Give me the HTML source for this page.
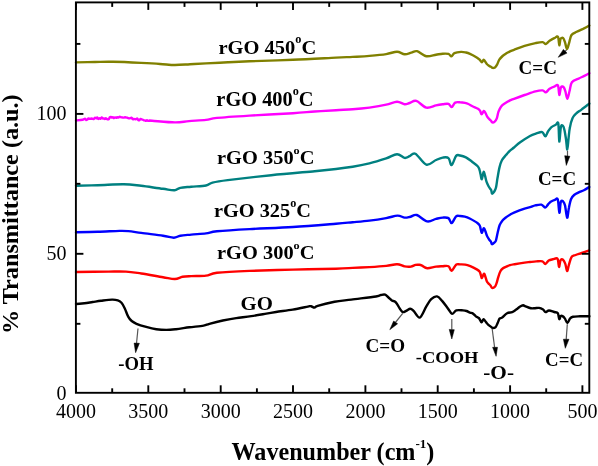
<!DOCTYPE html>
<html><head><meta charset="utf-8"><style>
html,body{margin:0;padding:0;background:#fff;}
body{width:598px;height:466px;overflow:hidden;}
svg{display:block;}
.t{font-family:"Liberation Serif","Times New Roman",serif;}
.b{font-weight:bold;}
</style></head><body>
<svg width="598" height="466" viewBox="0 0 598 466">
<rect width="598" height="466" fill="#fff"/>
<g fill="none" stroke-width="2.4" stroke-linejoin="round" stroke-linecap="round">
<path d="M76.0,62.4 C79.2,62.3 88.8,62.1 95.0,62.0 C101.2,61.9 105.3,61.6 113.0,61.8 C120.7,61.9 133.2,62.5 141.0,62.9 C148.8,63.3 154.3,63.6 160.0,64.0 C165.7,64.3 170.0,65.0 175.0,65.0 C180.0,65.0 184.8,64.5 190.0,64.2 C195.2,63.9 199.7,63.7 206.0,63.4 C212.3,63.1 220.8,62.6 228.0,62.3 C235.2,61.9 238.7,61.7 249.5,61.3 C260.3,60.9 278.6,60.4 293.0,59.8 C307.4,59.2 326.1,58.1 336.0,57.6 C345.9,57.1 347.1,57.2 352.7,56.9 C358.3,56.6 363.8,56.4 369.4,55.9 C375.0,55.4 381.6,54.8 386.2,54.1 C390.8,53.4 393.9,51.7 397.0,51.7 C400.1,51.7 402.2,54.1 404.6,54.2 C407.0,54.4 409.2,53.1 411.3,52.6 C413.4,52.1 414.6,50.6 417.1,51.2 C419.6,51.8 423.2,55.6 426.3,56.2 C429.4,56.8 433.3,55.1 436.0,54.7 C438.7,54.3 440.6,53.8 442.7,53.7 C444.8,53.6 447.1,53.5 448.5,53.9 C449.9,54.3 450.4,56.5 451.4,56.4 C452.4,56.3 452.8,53.9 454.4,53.1 C456.0,52.4 459.2,52.0 461.1,51.9 C463.0,51.8 464.5,52.2 466.0,52.5 C467.5,52.8 468.2,53.0 470.0,53.8 C471.8,54.6 475.1,56.4 476.7,57.4 C478.3,58.4 478.6,58.7 479.5,59.5 C480.4,60.3 481.2,62.4 481.9,62.4 C482.6,62.4 483.0,59.5 483.8,59.8 C484.6,60.1 485.9,63.0 486.8,64.0 C487.7,65.0 488.3,65.3 489.0,65.8 C489.7,66.3 490.4,66.5 491.0,66.8 C491.6,67.1 491.9,67.6 492.4,67.8 C492.8,68.0 493.2,68.0 493.7,67.9 C494.1,67.8 494.5,67.9 495.1,67.3 C495.7,66.7 496.5,65.7 497.2,64.4 C497.9,63.1 498.4,61.0 499.3,59.6 C500.2,58.2 501.4,57.1 502.6,56.0 C503.9,54.9 505.6,53.9 506.8,53.1 C508.0,52.3 508.8,52.0 510.0,51.4 C511.2,50.8 511.6,50.7 514.0,49.8 C516.4,48.9 521.0,47.0 524.6,45.9 C528.2,44.8 532.5,43.7 535.5,43.1 C538.5,42.5 540.9,42.0 542.6,42.1 C544.3,42.2 544.6,44.2 545.8,44.0 C547.0,43.8 548.1,41.8 549.6,40.8 C551.1,39.8 553.4,38.5 554.8,37.9 C556.2,37.2 557.2,35.7 558.0,36.9 C558.8,38.1 558.9,45.0 559.3,45.3 C559.7,45.6 560.0,40.0 560.6,38.8 C561.2,37.6 562.5,37.6 563.2,38.2 C564.0,38.9 564.5,40.9 565.1,42.7 C565.7,44.5 566.4,49.0 567.0,49.1 C567.6,49.2 568.2,45.8 569.0,43.4 C569.8,41.0 570.2,36.9 571.5,35.0 C572.8,33.1 574.8,32.8 576.7,31.8 C578.6,30.8 581.0,29.9 583.1,28.9 C585.2,27.8 588.3,26.1 589.3,25.5" stroke="#808000"/>
<path d="M76.0,120.5 C77.1,120.4 81.2,120.1 82.7,119.8 C84.2,119.5 84.4,118.8 84.9,118.8 C85.5,118.8 85.7,119.8 86.1,119.9 C86.4,120.1 86.8,119.8 87.2,119.6 C87.5,119.4 87.9,118.7 88.3,118.5 C88.7,118.4 89.0,118.8 89.4,118.8 C89.8,118.8 90.1,118.8 90.5,118.7 C90.9,118.7 91.3,118.5 91.6,118.5 C92.0,118.6 92.4,118.7 92.8,118.8 C93.1,118.9 93.5,119.2 93.9,119.0 C94.2,118.8 94.6,117.8 95.0,117.7 C95.4,117.5 95.7,118.3 96.1,118.3 C96.5,118.3 96.8,117.4 97.2,117.5 C97.6,117.6 98.0,118.8 98.3,118.9 C98.7,119.1 99.1,118.2 99.4,118.2 C99.8,118.2 100.2,119.0 100.6,118.8 C100.9,118.7 101.3,117.6 101.7,117.5 C102.1,117.4 102.4,118.2 102.8,118.4 C103.2,118.6 103.5,118.3 103.8,118.4 C104.1,118.5 104.5,119.1 104.8,119.0 C105.1,119.0 105.5,118.3 105.8,118.3 C106.1,118.3 106.5,118.7 106.8,118.9 C107.1,119.1 107.5,119.4 107.8,119.4 C108.1,119.4 108.5,119.4 108.8,119.1 C109.1,118.7 109.5,117.6 109.8,117.2 C110.1,116.8 110.5,116.9 110.8,116.9 C111.1,117.0 111.5,117.5 111.8,117.6 C112.1,117.6 112.5,117.1 112.8,117.2 C113.1,117.3 113.5,118.2 113.9,118.2 C114.3,118.2 114.6,117.5 115.0,117.4 C115.4,117.3 115.7,117.8 116.1,117.8 C116.5,117.8 116.8,117.3 117.2,117.2 C117.6,117.2 118.0,117.6 118.3,117.6 C118.7,117.5 119.1,116.9 119.4,116.8 C119.8,116.7 120.2,117.0 120.6,117.1 C120.9,117.2 121.3,117.4 121.7,117.4 C122.1,117.5 122.4,117.5 122.8,117.5 C123.2,117.5 123.5,117.7 123.9,117.6 C124.3,117.6 124.7,117.3 125.0,117.3 C125.4,117.3 125.8,117.4 126.2,117.5 C126.5,117.5 126.9,117.5 127.3,117.6 C127.6,117.7 128.0,118.0 128.4,118.2 C128.8,118.3 129.1,118.4 129.5,118.4 C129.9,118.4 130.2,118.2 130.6,118.1 C131.0,118.0 131.4,117.5 131.7,117.7 C132.1,117.9 132.5,119.1 132.8,119.3 C133.2,119.5 133.6,118.9 134.0,118.9 C134.3,118.9 134.7,119.1 135.1,119.2 C135.5,119.2 135.8,119.1 136.2,119.0 C136.6,118.9 136.9,118.4 137.3,118.6 C137.7,118.8 138.1,119.9 138.4,120.2 C138.8,120.4 139.2,120.3 139.6,120.0 C139.9,119.8 140.3,119.0 140.7,118.9 C141.0,118.7 141.4,119.2 141.8,119.4 C142.2,119.5 142.5,119.6 142.9,119.8 C143.3,120.0 143.6,120.2 143.9,120.3 C144.3,120.4 144.6,120.3 144.9,120.4 C145.3,120.5 145.6,120.9 146.0,120.9 C146.3,120.8 146.6,120.1 147.0,120.1 C147.3,120.1 147.7,120.8 148.0,120.9 C148.4,121.0 148.4,120.7 149.0,120.7 C149.7,120.7 147.8,120.4 152.1,120.7 C156.4,121.0 168.8,122.3 174.9,122.4 C181.1,122.5 183.8,121.5 189.0,121.1 C194.2,120.7 201.3,120.4 206.0,119.9 C210.7,119.4 209.7,118.6 216.9,117.9 C224.2,117.2 236.8,116.4 249.5,115.6 C262.2,114.8 282.1,113.9 293.0,113.2 C303.9,112.5 307.5,112.0 314.7,111.5 C321.9,111.0 329.7,110.6 336.0,110.2 C342.3,109.8 347.1,109.6 352.7,109.2 C358.3,108.8 363.8,108.3 369.4,107.6 C375.0,106.8 381.6,105.7 386.2,104.7 C390.8,103.7 393.9,101.8 397.0,101.7 C400.1,101.6 402.5,104.0 404.6,104.2 C406.7,104.4 407.7,103.5 409.6,103.0 C411.6,102.5 413.5,100.1 416.3,100.9 C419.1,101.7 423.0,106.8 426.3,107.6 C429.6,108.3 433.3,106.0 436.0,105.4 C438.7,104.8 440.6,104.5 442.7,104.2 C444.8,104.0 447.0,103.4 448.5,103.9 C450.0,104.4 450.5,107.3 451.6,107.1 C452.7,106.9 453.8,103.4 455.2,102.6 C456.6,101.8 458.4,102.2 460.0,102.3 C461.6,102.3 463.6,102.6 465.0,102.9 C466.4,103.2 467.1,103.4 468.4,104.0 C469.6,104.6 470.9,105.5 472.5,106.3 C474.1,107.1 476.7,108.0 478.0,108.8 C479.3,109.6 479.5,110.0 480.1,110.9 C480.7,111.8 481.0,114.4 481.6,114.4 C482.2,114.4 483.2,111.1 483.8,110.9 C484.4,110.7 484.9,112.0 485.5,113.0 C486.1,114.0 486.6,115.7 487.2,116.7 C487.8,117.7 488.7,118.6 489.3,119.2 C489.9,119.8 490.4,120.0 490.9,120.5 C491.4,121.0 491.6,122.2 492.2,122.4 C492.8,122.6 493.9,122.3 494.7,121.6 C495.5,120.9 496.2,120.1 496.8,118.4 C497.4,116.8 497.8,113.7 498.5,111.7 C499.2,109.8 500.0,108.0 501.0,106.7 C502.0,105.4 502.8,104.8 504.3,103.8 C505.8,102.8 508.4,101.2 510.0,100.4 C511.6,99.6 511.6,99.7 514.0,98.8 C516.4,97.9 521.0,96.2 524.6,95.0 C528.2,93.8 532.5,92.2 535.5,91.4 C538.5,90.6 540.9,90.2 542.6,90.4 C544.3,90.6 544.6,92.6 545.8,92.3 C547.0,92.0 548.1,89.8 549.6,88.8 C551.1,87.8 553.4,86.8 554.8,86.3 C556.2,85.8 557.2,84.2 558.0,85.6 C558.8,87.0 558.8,94.6 559.3,94.9 C559.8,95.2 560.3,88.5 561.0,87.2 C561.7,85.9 562.9,86.5 563.6,87.2 C564.3,87.9 564.8,89.5 565.4,91.4 C566.0,93.3 566.7,98.9 567.4,98.8 C568.1,98.7 568.9,93.6 569.6,90.8 C570.4,88.0 570.4,84.2 571.9,82.2 C573.4,80.2 576.5,79.6 578.6,78.6 C580.7,77.5 582.6,76.8 584.4,75.9 C586.2,75.0 588.5,73.7 589.3,73.2" stroke="#ff00ff"/>
<path d="M76.0,185.7 C79.6,185.6 89.7,185.4 97.7,185.2 C105.7,185.0 116.5,184.2 123.8,184.3 C131.0,184.4 134.7,185.1 141.2,185.8 C147.7,186.6 157.4,188.1 163.0,188.8 C168.6,189.6 171.6,190.5 174.5,190.3 C177.4,190.1 177.5,188.4 180.3,187.8 C183.1,187.2 186.9,187.1 191.2,186.7 C195.5,186.3 202.4,186.2 206.0,185.5 C209.6,184.8 208.9,183.5 212.5,182.6 C216.1,181.7 217.9,181.3 227.7,180.1 C237.5,178.9 256.7,176.7 271.2,175.2 C285.7,173.7 303.9,172.2 314.7,171.2 C325.5,170.2 329.7,169.7 336.0,169.0 C342.3,168.3 347.1,167.7 352.7,166.8 C358.3,165.9 363.8,164.8 369.4,163.4 C375.0,162.0 381.6,159.9 386.2,158.4 C390.8,156.9 393.9,154.3 397.0,154.2 C400.1,154.1 402.5,157.6 404.6,157.9 C406.7,158.2 407.8,156.9 409.6,156.2 C411.4,155.5 412.6,152.3 415.4,153.7 C418.2,155.1 422.9,163.5 426.3,164.6 C429.7,165.7 433.3,161.2 436.0,160.0 C438.7,158.8 440.6,157.9 442.7,157.6 C444.8,157.3 447.0,156.8 448.5,158.1 C450.0,159.3 450.3,165.5 451.6,165.1 C452.9,164.7 454.7,157.5 456.1,155.9 C457.5,154.3 458.4,155.2 460.0,155.5 C461.6,155.8 463.9,156.4 465.9,157.4 C467.9,158.4 469.8,160.0 471.8,161.5 C473.8,163.0 476.4,164.8 477.7,166.2 C479.0,167.6 479.0,168.4 479.5,169.8 C480.0,171.2 480.2,172.9 480.6,174.5 C481.0,176.1 481.3,179.6 481.8,179.2 C482.3,178.8 483.1,172.5 483.6,171.9 C484.1,171.3 484.5,174.1 485.0,175.7 C485.5,177.3 485.9,179.9 486.5,181.6 C487.1,183.3 487.7,184.5 488.3,185.7 C488.9,186.9 489.6,187.8 490.1,188.6 C490.6,189.4 491.0,189.6 491.3,190.4 C491.6,191.2 491.6,193.5 492.1,193.7 C492.6,193.9 493.6,192.6 494.2,191.6 C494.8,190.6 495.4,189.8 496.0,187.5 C496.6,185.2 496.9,181.3 497.5,178.0 C498.1,174.7 498.8,170.3 499.5,167.4 C500.2,164.5 500.8,162.4 501.9,160.3 C503.0,158.2 504.6,156.6 506.0,155.0 C507.4,153.4 508.7,151.8 510.0,150.6 C511.3,149.3 512.3,148.9 514.0,147.5 C515.7,146.1 517.5,144.2 520.2,142.3 C522.9,140.4 527.3,137.5 530.0,136.0 C532.7,134.5 534.4,134.1 536.4,133.4 C538.4,132.8 540.7,131.6 542.2,132.1 C543.7,132.6 544.4,136.5 545.4,136.4 C546.4,136.3 547.0,133.0 548.0,131.5 C549.0,130.0 549.9,128.4 551.2,127.3 C552.5,126.2 554.5,125.4 555.7,124.8 C556.9,124.2 557.7,120.7 558.3,123.5 C558.9,126.3 558.9,140.9 559.3,141.5 C559.7,142.1 560.3,129.6 560.9,127.0 C561.5,124.4 562.2,125.2 562.8,125.7 C563.4,126.2 564.0,127.9 564.5,130.2 C565.0,132.4 565.5,136.0 566.0,139.2 C566.5,142.4 566.9,149.7 567.3,149.5 C567.7,149.3 568.2,141.6 568.6,137.9 C569.0,134.2 569.2,130.9 569.9,127.6 C570.5,124.3 571.4,120.6 572.5,118.2 C573.6,115.8 574.8,114.8 576.3,113.4 C577.8,112.0 579.3,111.2 581.5,109.6 C583.7,108.0 588.0,104.6 589.3,103.6" stroke="#008080"/>
<path d="M76.0,232.2 C79.6,232.1 90.5,232.0 97.7,231.8 C105.0,231.6 114.4,231.0 119.5,230.9 C124.6,230.8 124.6,230.8 128.2,231.1 C131.8,231.4 135.4,232.1 141.2,232.9 C147.0,233.7 157.6,234.9 163.0,235.7 C168.4,236.5 170.9,237.7 173.8,237.7 C176.7,237.7 177.4,236.2 180.3,235.7 C183.2,235.2 186.9,235.0 191.2,234.6 C195.5,234.2 201.7,233.9 206.0,233.4 C210.3,232.9 209.7,232.0 216.9,231.3 C224.2,230.6 236.8,229.8 249.5,229.1 C262.2,228.4 278.6,227.9 293.0,227.0 C307.4,226.1 326.1,224.5 336.0,223.7 C345.9,222.9 347.1,222.7 352.7,222.2 C358.3,221.7 363.8,221.3 369.4,220.6 C375.0,219.9 381.5,218.9 386.2,218.1 C390.9,217.3 394.4,215.7 397.5,215.6 C400.6,215.5 402.5,217.4 404.6,217.6 C406.8,217.8 408.4,217.1 410.4,216.7 C412.4,216.3 414.0,214.2 416.8,215.0 C419.6,215.8 424.0,220.8 427.2,221.4 C430.4,222.1 433.4,219.5 436.0,218.9 C438.6,218.3 440.6,217.7 442.7,217.6 C444.8,217.5 447.0,217.2 448.5,218.1 C450.0,219.0 450.3,223.4 451.6,223.1 C452.9,222.8 454.7,217.6 456.1,216.4 C457.5,215.2 458.6,216.0 460.0,216.0 C461.4,216.0 463.2,216.2 464.8,216.6 C466.4,217.0 467.6,217.4 469.7,218.5 C471.8,219.6 475.7,221.7 477.4,222.9 C479.1,224.1 479.2,224.7 479.8,225.8 C480.4,226.9 480.4,228.4 480.8,229.6 C481.2,230.8 481.5,233.0 482.0,232.8 C482.5,232.6 483.1,228.5 483.6,228.2 C484.2,227.9 484.7,229.8 485.3,231.1 C485.9,232.4 486.4,234.5 487.0,235.9 C487.6,237.3 488.4,238.3 489.0,239.3 C489.6,240.3 490.4,240.9 490.9,241.7 C491.4,242.5 491.4,244.0 492.0,244.2 C492.6,244.3 493.7,243.2 494.3,242.6 C494.9,242.0 495.3,242.3 495.9,240.7 C496.4,239.1 497.0,235.6 497.6,233.0 C498.2,230.4 498.8,227.4 499.6,225.3 C500.4,223.2 501.4,221.8 502.5,220.4 C503.6,219.0 505.1,218.1 506.3,217.1 C507.6,216.1 508.7,215.4 510.0,214.7 C511.3,213.9 511.6,213.6 514.0,212.6 C516.4,211.6 521.9,209.5 524.6,208.6 C527.3,207.7 528.2,207.7 530.0,207.2 C531.8,206.7 533.3,205.8 535.2,205.4 C537.1,205.0 539.7,204.3 541.4,204.7 C543.1,205.1 544.2,207.6 545.3,207.6 C546.4,207.6 547.2,205.4 548.1,204.4 C549.0,203.4 549.6,202.6 550.7,201.8 C551.8,201.1 553.7,200.3 554.9,199.9 C556.1,199.5 557.0,197.3 557.8,199.5 C558.5,201.7 558.9,212.4 559.4,212.8 C559.9,213.2 560.2,203.7 560.8,201.8 C561.4,199.9 562.3,200.7 563.0,201.3 C563.7,201.9 564.3,202.7 565.0,205.4 C565.7,208.2 566.5,217.4 567.1,217.8 C567.8,218.2 568.2,211.1 568.9,208.0 C569.5,204.9 570.1,201.4 571.0,199.2 C571.9,197.0 572.8,196.1 574.1,195.0 C575.4,193.9 577.1,193.2 578.7,192.4 C580.3,191.6 582.1,191.1 583.9,190.2 C585.7,189.3 588.4,187.5 589.3,187.0" stroke="#0000ff"/>
<path d="M76.0,272.0 C81.4,271.9 100.3,271.7 108.6,271.6 C116.9,271.5 120.6,271.3 126.0,271.6 C131.4,271.9 135.0,272.6 141.2,273.5 C147.4,274.4 157.4,276.3 163.0,277.2 C168.6,278.1 171.7,279.1 174.9,279.0 C178.2,278.9 179.8,277.3 182.5,276.8 C185.2,276.3 187.3,276.3 191.2,276.1 C195.1,275.9 201.7,276.2 206.0,275.6 C210.3,275.1 209.7,273.6 216.9,272.8 C224.2,272.0 236.8,271.4 249.5,270.9 C262.2,270.4 278.6,270.0 293.0,269.6 C307.4,269.2 326.1,269.0 336.0,268.7 C345.9,268.4 347.1,268.2 352.7,267.9 C358.3,267.6 363.8,267.4 369.4,267.1 C375.0,266.8 381.6,266.4 386.2,265.9 C390.8,265.4 394.0,264.1 397.1,264.2 C400.2,264.3 402.3,266.0 404.6,266.4 C406.9,266.8 409.1,266.9 410.9,266.6 C412.7,266.4 414.1,265.2 415.5,264.9 C416.9,264.6 418.4,264.7 419.5,264.8 C420.6,264.9 420.7,265.0 422.0,265.6 C423.3,266.2 425.0,268.0 427.3,268.2 C429.6,268.4 433.4,266.9 436.0,266.6 C438.6,266.3 440.6,266.3 442.7,266.2 C444.8,266.1 447.0,265.4 448.5,266.2 C450.0,267.0 450.3,271.1 451.6,270.9 C452.9,270.6 454.7,265.8 456.1,264.7 C457.5,263.6 458.5,264.4 460.0,264.4 C461.5,264.4 463.5,264.3 465.2,264.6 C466.9,264.9 468.3,265.4 470.3,266.2 C472.3,267.0 475.6,268.7 477.2,269.6 C478.8,270.5 479.2,270.8 479.8,271.8 C480.4,272.8 480.6,274.6 481.0,275.6 C481.4,276.6 481.4,278.3 481.9,278.0 C482.4,277.7 483.3,273.9 483.9,273.7 C484.5,273.4 484.8,275.2 485.3,276.5 C485.8,277.8 486.3,280.1 486.8,281.2 C487.3,282.3 487.8,282.7 488.4,283.4 C489.0,284.1 489.9,284.8 490.5,285.5 C491.1,286.2 491.3,287.7 492.0,287.9 C492.7,288.1 494.1,287.6 494.8,286.8 C495.6,286.1 495.9,285.0 496.5,283.4 C497.1,281.8 497.6,279.3 498.2,277.3 C498.8,275.3 499.6,272.8 500.4,271.3 C501.2,269.8 502.0,269.1 503.0,268.3 C504.0,267.5 505.2,267.1 506.4,266.6 C507.6,266.1 508.6,265.5 510.0,265.1 C511.4,264.7 512.2,264.6 514.6,264.2 C517.0,263.8 522.0,263.0 524.6,262.6 C527.2,262.2 528.1,262.2 530.0,262.0 C531.9,261.8 534.1,261.5 536.2,261.4 C538.3,261.3 540.9,260.9 542.4,261.3 C543.9,261.7 544.2,264.1 545.3,264.0 C546.3,263.9 547.5,261.3 548.7,260.5 C550.0,259.7 551.3,259.6 552.8,259.3 C554.3,259.0 556.5,257.4 557.5,258.7 C558.5,260.0 558.5,266.8 559.0,267.0 C559.5,267.2 559.9,261.4 560.6,260.2 C561.3,259.0 562.2,259.1 563.0,259.7 C563.8,260.3 564.6,261.9 565.3,263.8 C566.0,265.7 566.5,270.8 567.1,271.0 C567.7,271.2 568.2,267.2 568.9,264.9 C569.6,262.6 570.4,258.8 571.5,257.1 C572.6,255.5 573.9,255.7 575.6,255.0 C577.3,254.3 579.5,253.8 581.8,253.0 C584.0,252.2 587.9,250.8 589.1,250.4" stroke="#ff0000"/>
<path d="M76.0,304.0 C77.4,303.9 81.6,303.5 84.4,303.2 C87.2,302.9 89.9,302.4 92.7,302.0 C95.5,301.6 97.9,301.2 101.1,300.8 C104.3,300.4 109.2,299.7 112.0,299.6 C114.8,299.5 116.2,299.8 117.8,300.3 C119.4,300.8 120.3,301.5 121.5,302.8 C122.7,304.1 123.7,306.1 124.8,308.4 C125.9,310.7 127.0,314.5 128.2,316.6 C129.3,318.7 130.3,319.8 131.7,321.0 C133.1,322.2 134.1,322.8 136.5,323.8 C138.9,324.8 142.9,326.0 146.2,326.9 C149.5,327.8 153.0,328.7 156.3,329.2 C159.7,329.7 163.0,329.9 166.3,329.9 C169.6,329.9 172.2,329.6 176.0,329.2 C179.8,328.8 184.8,327.9 189.4,327.3 C194.0,326.7 200.3,326.2 203.6,325.6 C206.9,325.0 206.2,324.7 209.4,323.8 C212.6,322.9 218.3,321.4 222.8,320.5 C227.3,319.6 231.4,318.8 236.2,318.1 C240.9,317.4 246.3,316.9 251.3,316.1 C256.3,315.4 262.2,314.3 266.3,313.6 C270.4,312.9 271.6,312.7 276.0,312.0 C280.4,311.3 287.4,310.5 292.7,309.6 C298.0,308.7 304.8,307.2 307.8,306.6 C310.9,306.0 309.9,306.0 311.0,306.2 C312.1,306.4 313.4,307.7 314.5,307.6 C315.6,307.6 314.4,306.9 317.7,305.9 C321.0,304.9 328.9,302.9 334.5,301.8 C340.1,300.8 344.4,300.5 351.3,299.6 C358.2,298.7 371.1,297.3 376.0,296.5 C380.9,295.7 379.5,295.3 381.0,295.0 C382.5,294.7 383.9,294.3 385.2,294.7 C386.4,295.1 387.4,296.6 388.5,297.5 C389.6,298.4 390.8,299.7 391.9,300.4 C393.0,301.1 394.2,300.9 395.2,301.7 C396.2,302.5 396.9,303.9 397.7,305.1 C398.5,306.4 399.3,308.0 400.2,309.2 C401.1,310.4 401.8,311.8 402.8,312.1 C403.8,312.4 404.9,311.5 406.1,310.9 C407.4,310.3 409.1,308.7 410.3,308.7 C411.6,308.7 412.0,309.4 413.6,310.9 C415.2,312.4 417.7,318.3 419.8,317.6 C421.9,316.9 424.3,309.8 426.2,306.7 C428.1,303.6 429.4,300.9 431.2,299.2 C433.0,297.5 435.2,296.1 437.0,296.4 C438.8,296.7 440.3,298.9 442.1,300.9 C443.9,302.9 446.2,306.2 447.9,308.4 C449.6,310.6 450.7,313.6 452.1,313.9 C453.5,314.2 454.5,311.0 456.3,310.4 C458.1,309.8 461.3,310.3 463.0,310.4 C464.7,310.5 465.3,310.6 466.5,311.0 C467.7,311.4 468.9,312.2 470.0,312.6 C471.1,313.0 472.0,313.0 473.0,313.6 C474.0,314.2 475.0,315.6 476.0,316.4 C477.0,317.1 478.1,317.1 479.0,318.1 C479.9,319.1 480.8,322.2 481.5,322.4 C482.2,322.6 482.8,319.2 483.5,319.1 C484.2,319.1 485.2,321.2 486.0,322.1 C486.8,323.0 487.2,323.8 488.1,324.6 C489.0,325.4 490.3,326.3 491.1,326.9 C491.9,327.5 492.1,328.0 492.9,328.0 C493.6,328.0 494.8,327.9 495.6,327.1 C496.4,326.3 496.9,324.5 497.6,323.1 C498.3,321.7 498.9,319.5 499.6,318.6 C500.4,317.7 500.9,318.5 502.1,317.6 C503.4,316.7 505.4,314.2 507.1,313.3 C508.8,312.4 510.6,312.7 512.1,312.1 C513.6,311.5 514.9,310.4 516.2,309.5 C517.6,308.6 519.0,307.2 520.2,306.5 C521.4,305.8 522.4,305.4 523.2,305.3 C524.0,305.2 523.7,305.6 525.0,306.1 C526.3,306.6 529.2,308.0 530.9,308.3 C532.6,308.6 533.6,308.3 535.0,308.2 C536.4,308.1 537.6,307.7 539.0,307.9 C540.4,308.1 542.0,308.9 543.1,309.6 C544.2,310.3 544.5,312.0 545.5,312.1 C546.5,312.2 547.5,310.5 549.0,310.5 C550.5,310.5 552.8,311.6 554.3,312.0 C555.8,312.4 557.0,311.9 557.8,313.1 C558.6,314.3 558.8,318.6 559.3,319.1 C559.8,319.6 560.2,316.6 560.7,316.1 C561.2,315.6 561.8,315.7 562.5,316.1 C563.2,316.5 564.0,317.2 564.8,318.4 C565.6,319.5 566.5,323.0 567.4,323.0 C568.3,323.0 569.2,319.4 570.1,318.4 C571.0,317.3 571.4,317.0 573.0,316.7 C574.6,316.4 577.3,316.4 580.0,316.3 C582.7,316.2 587.8,316.2 589.4,316.2" stroke="#000000"/>
</g>
<g stroke="#000" stroke-width="1.9" fill="none">
<rect x="75.9" y="2.4" width="513.4" height="390.4"/>
<line x1="582.4" y1="392.8" x2="582.4" y2="385.3"/><line x1="582.4" y1="2.4" x2="582.4" y2="9.9"/><line x1="546.2" y1="392.8" x2="546.2" y2="388.3"/><line x1="546.2" y1="2.4" x2="546.2" y2="6.9"/><line x1="510.1" y1="392.8" x2="510.1" y2="385.3"/><line x1="510.1" y1="2.4" x2="510.1" y2="9.9"/><line x1="473.9" y1="392.8" x2="473.9" y2="388.3"/><line x1="473.9" y1="2.4" x2="473.9" y2="6.9"/><line x1="437.7" y1="392.8" x2="437.7" y2="385.3"/><line x1="437.7" y1="2.4" x2="437.7" y2="9.9"/><line x1="401.5" y1="392.8" x2="401.5" y2="388.3"/><line x1="401.5" y1="2.4" x2="401.5" y2="6.9"/><line x1="365.4" y1="392.8" x2="365.4" y2="385.3"/><line x1="365.4" y1="2.4" x2="365.4" y2="9.9"/><line x1="329.2" y1="392.8" x2="329.2" y2="388.3"/><line x1="329.2" y1="2.4" x2="329.2" y2="6.9"/><line x1="293.0" y1="392.8" x2="293.0" y2="385.3"/><line x1="293.0" y1="2.4" x2="293.0" y2="9.9"/><line x1="256.9" y1="392.8" x2="256.9" y2="388.3"/><line x1="256.9" y1="2.4" x2="256.9" y2="6.9"/><line x1="220.7" y1="392.8" x2="220.7" y2="385.3"/><line x1="220.7" y1="2.4" x2="220.7" y2="9.9"/><line x1="184.5" y1="392.8" x2="184.5" y2="388.3"/><line x1="184.5" y1="2.4" x2="184.5" y2="6.9"/><line x1="148.3" y1="392.8" x2="148.3" y2="385.3"/><line x1="148.3" y1="2.4" x2="148.3" y2="9.9"/><line x1="112.2" y1="392.8" x2="112.2" y2="388.3"/><line x1="112.2" y1="2.4" x2="112.2" y2="6.9"/><line x1="76.0" y1="392.8" x2="76.0" y2="385.3"/><line x1="76.0" y1="2.4" x2="76.0" y2="9.9"/><line x1="75.9" y1="323.8" x2="80.4" y2="323.8"/><line x1="589.3" y1="323.8" x2="584.8" y2="323.8"/><line x1="75.9" y1="253.8" x2="83.4" y2="253.8"/><line x1="589.3" y1="253.8" x2="581.8" y2="253.8"/><line x1="75.9" y1="183.8" x2="80.4" y2="183.8"/><line x1="589.3" y1="183.8" x2="584.8" y2="183.8"/><line x1="75.9" y1="113.9" x2="83.4" y2="113.9"/><line x1="589.3" y1="113.9" x2="581.8" y2="113.9"/><line x1="75.9" y1="43.9" x2="80.4" y2="43.9"/><line x1="589.3" y1="43.9" x2="584.8" y2="43.9"/>
</g>
<g fill="#000" stroke="none">
<style>.al{stroke:#555;stroke-width:1.2;}</style>
<line x1="566.5" y1="50.0" x2="565.0" y2="51.5" class="al"/><polygon points="563.4,49.4 567.0,53.1 558.2,57.3" stroke="#000" stroke-width="0.5" stroke-linejoin="round"/><line x1="567.5" y1="150.8" x2="567.5" y2="156.0" class="al"/><polygon points="564.7,155.7 569.9,156.3 566.3,165.4" stroke="#000" stroke-width="0.5" stroke-linejoin="round"/><line x1="138.0" y1="328.5" x2="136.5" y2="343.5" class="al"/><polygon points="134.1,343.1 139.4,343.3 135.6,352.7" stroke="#000" stroke-width="0.5" stroke-linejoin="round"/><line x1="402.7" y1="313.4" x2="395.4" y2="322.5" class="al"/><polygon points="393.6,321.1 397.6,323.8 389.8,329.7" stroke="#000" stroke-width="0.5" stroke-linejoin="round"/><line x1="451.8" y1="319.1" x2="451.8" y2="329.6" class="al"/><polygon points="449.2,329.4 454.3,329.7 451.8,339.0" stroke="#000" stroke-width="0.5" stroke-linejoin="round"/><line x1="492.2" y1="328.9" x2="494.6" y2="347.5" class="al"/><polygon points="492.6,347.3 497.5,347.3 496.1,356.3" stroke="#000" stroke-width="0.5" stroke-linejoin="round"/><line x1="567.3" y1="324.2" x2="566.2" y2="339.4" class="al"/><polygon points="563.4,339.2 569.0,339.3 565.3,348.3" stroke="#000" stroke-width="0.5" stroke-linejoin="round"/>
</g>
<g class="t" font-size="20" fill="#000">
<text x="582.4" y="418.4" text-anchor="middle">500</text><text x="510.1" y="418.4" text-anchor="middle">1000</text><text x="437.7" y="418.4" text-anchor="middle">1500</text><text x="365.4" y="418.4" text-anchor="middle">2000</text><text x="293.0" y="418.4" text-anchor="middle">2500</text><text x="220.7" y="418.4" text-anchor="middle">3000</text><text x="148.3" y="418.4" text-anchor="middle">3500</text><text x="76.0" y="418.4" text-anchor="middle">4000</text>
<text x="66.4" y="399.8" text-anchor="end">0</text><text x="66.4" y="259.9" text-anchor="end">50</text><text x="66.4" y="120.0" text-anchor="end">100</text>
</g>
<g class="t b" fill="#000"><text transform="translate(218.53,53.65) scale(1.0247,0.9875)" font-size="20">rGO 450<tspan dy="-10.5" font-size="12">o</tspan><tspan dy="10.5">C</tspan></text>
<text transform="translate(216.33,105.95) scale(1.0194,1.0063)" font-size="20">rGO 400<tspan dy="-10.5" font-size="12">o</tspan><tspan dy="10.5">C</tspan></text>
<text transform="translate(217.03,163.75) scale(1.0215,0.95)" font-size="20">rGO 350<tspan dy="-10.5" font-size="12">o</tspan><tspan dy="10.5">C</tspan></text>
<text transform="translate(213.93,216.85) scale(1.0172,0.9563)" font-size="20">rGO 325<tspan dy="-10.5" font-size="12">o</tspan><tspan dy="10.5">C</tspan></text>
<text transform="translate(217.03,258.55) scale(1.0215,0.95)" font-size="20">rGO 300<tspan dy="-10.5" font-size="12">o</tspan><tspan dy="10.5">C</tspan></text>
<text transform="translate(240.51,310.05) scale(1.0414,0.8929)" font-size="20">GO</text>
<text transform="translate(518.55,74.25) scale(1.0028,0.9615)" font-size="19">C=C</text>
<text transform="translate(537.95,184.75) scale(0.9972,0.9538)" font-size="19">C=C</text>
<text transform="translate(365.54,352.25) scale(1.0081,0.9615)" font-size="19">C=O</text>
<text transform="translate(415.78,362.95) scale(0.9746,0.9077)" font-size="19">-COOH</text>
<text transform="translate(483.29,379.15) scale(1.063,0.9857)" font-size="20">-O-</text>
<text transform="translate(545.06,365.65) scale(0.9917,0.9615)" font-size="19">C=C</text>
<text transform="translate(118.27,370.05) scale(0.9824,0.9538)" font-size="19">-OH</text>
<text transform="translate(231.55,459.68) scale(1.0065,1.0174)" font-size="24">Wavenumber (cm<tspan dy="-11" font-size="13">-1</tspan><tspan dy="11">)</tspan></text>
<text transform="translate(18.05,334.05) scale(0.9,0.9683) rotate(-90)" font-size="25">% Transmittance (a.u.)</text></g>
</svg>
</body></html>
